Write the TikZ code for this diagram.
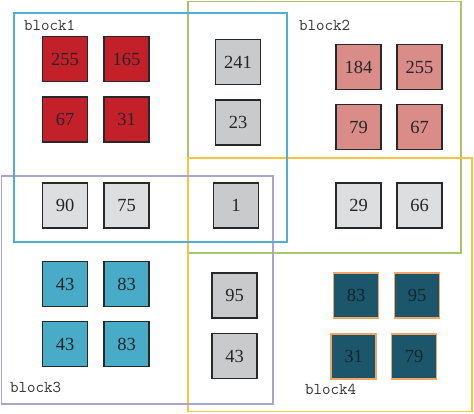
\documentclass[tikz,border=0pt]{standalone}
\usepackage{fontspec}
\setmainfont{Liberation Serif}
\definecolor{cRed}{RGB}{196,32,42}
\definecolor{cPink}{RGB}{217,140,136}
\definecolor{cGrayL}{RGB}{221,222,224}
\definecolor{cGrayD}{RGB}{201,202,204}
\definecolor{cBlue}{RGB}{72,172,200}
\definecolor{cTeal}{RGB}{28,86,106}
\definecolor{cOrange}{RGB}{240,165,105}
\definecolor{cTealTxt}{RGB}{18,38,48}
\definecolor{bBlue}{RGB}{80,176,211}
\definecolor{bGreen}{RGB}{168,196,108}
\definecolor{bPurple}{RGB}{173,163,207}
\definecolor{bYellow}{RGB}{246,195,67}
\definecolor{edge}{RGB}{40,40,40}
\tikzset{
  cell/.style={draw=edge, line width=1.3pt, minimum width=45pt, minimum height=45pt, inner sep=0pt, font=\fontsize{18.5}{18.5}\selectfont, text=black!85},
  redc/.style={cell, fill=cRed},
  pinkc/.style={cell, fill=cPink},
  grayl/.style={cell, fill=cGrayL},
  grayd/.style={cell, fill=cGrayD},
  bluec/.style={cell, fill=cBlue},
  tealc/.style={cell, fill=cTeal, draw=cOrange, text=cTealTxt},
  blk/.style={line width=1.5pt},
  blklabel/.style={anchor=base west, inner sep=0pt, font=\ttfamily\fontsize{16.5}{16.5}\selectfont, text=black!80}
}
\begin{document}
\begin{tikzpicture}[x=1pt,y=-1pt]
\useasboundingbox (0,0) rectangle (474,413);
% blocks
\draw[blk, draw=bGreen] (188,1.5) rectangle (461,253);
\draw[blk, draw=bYellow] (188,158) rectangle (472,411.5);
\draw[blk, draw=bPurple] (1.5,176) rectangle (273,404);
\draw[blk, draw=bBlue] (14,13) rectangle (287,242);
% labels
\node[blklabel] (l1) at (24,30) {block1};
\node[blklabel] (l2) at (299,30) {block2};
\node[blklabel] (l3) at (10,392) {block3};
\node[blklabel] (l4) at (305,394) {block4};
% red
\node[redc] (r1) at (65,59) {255};
\node[redc] (r2) at (126.5,59) {165};
\node[redc] (r3) at (65,119.5) {67};
\node[redc] (r4) at (126.5,119.5) {31};
% gray column top
\node[grayd] (g1) at (238,62) {241};
\node[grayd] (g2) at (238,122.5) {23};
% pink
\node[pinkc] (p1) at (358.5,67) {184};
\node[pinkc] (p2) at (419.5,67) {255};
\node[pinkc] (p3) at (358.5,127) {79};
\node[pinkc] (p4) at (419.5,127) {67};
% middle row
\node[grayl] (m1) at (65,205.5) {90};
\node[grayl] (m2) at (126.5,205.5) {75};
\node[grayd] (m3) at (236,205.5) {1};
\node[grayl] (m4) at (358.5,205.5) {29};
\node[grayl] (m5) at (419.5,205.5) {66};
% blue
\node[bluec] (b1) at (65,284) {43};
\node[bluec] (b2) at (126.5,284) {83};
\node[bluec] (b3) at (65,344) {43};
\node[bluec] (b4) at (126.5,344) {83};
% gray column bottom
\node[grayd] (g3) at (234.5,295.5) {95};
\node[grayd] (g4) at (234.5,356) {43};
% teal
\node[tealc] (t1) at (356,295.5) {83};
\node[tealc] (t2) at (417,295.5) {95};
\node[tealc] (t3) at (353.5,356.5) {31};
\node[tealc] (t4) at (414,356.5) {79};
\end{tikzpicture}
\end{document}
